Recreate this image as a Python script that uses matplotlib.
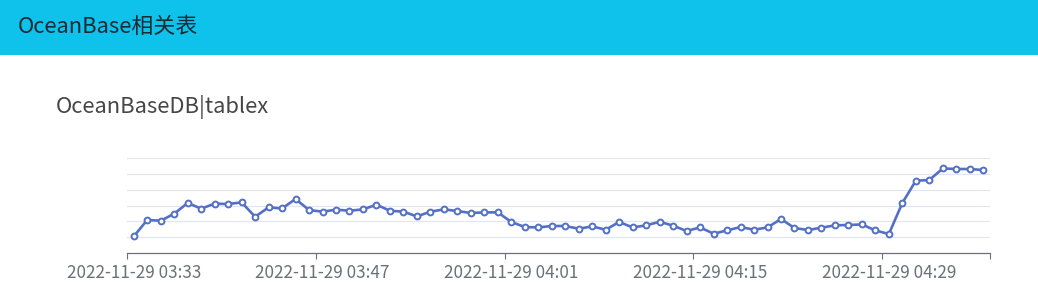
import matplotlib
matplotlib.use("Agg")
import matplotlib.pyplot as plt
import pandas as pd

plt.rcParams['font.family'] = ['Noto Sans CJK SC', 'DejaVu Sans']

header_text = "OceanBase相关表"
chart_title = "OceanBaseDB|tablex"

times = [t.strftime("%Y-%m-%d %H:%M") for t in
         pd.date_range("2022-11-29 03:33", "2022-11-29 04:36", freq="1min")]

values = [21.0, 41.7, 40.8, 49.6, 63.2, 56.0, 62.3, 61.9, 63.9, 45.8,
          57.6, 56.3, 68.2, 54.3, 52.2, 54.7, 53.4, 55.1, 61.0, 53.4,
          52.2, 46.2, 52.2, 55.1, 53.0, 50.5, 51.3, 51.3, 39.2, 32.8,
          32.3, 34.1, 34.1, 30.7, 33.6, 29.4, 39.2, 32.3, 34.9, 39.5,
          34.5, 27.8, 32.3, 24.4, 28.5, 32.8, 29.4, 32.3, 42.9, 31.6,
          29.0, 32.0, 34.9, 35.4, 36.1, 28.5, 24.0, 63.2, 91.3, 92.2,
          106.8, 106.1, 106.1, 104.8]

label_interval = 14
y_max = 120
y_step = 20

W, H = 1038, 282
fig = plt.figure(figsize=(W / 100, H / 100), dpi=100)
fig.patch.set_facecolor("white")

# header bar
fig.patches.append(plt.Rectangle((0, 1 - 55 / H), 1, 55 / H, transform=fig.transFigure,
                                 facecolor="#0ec2ec", edgecolor="none", zorder=0))
fig.text(18 / W, 1 - 27 / H, header_text, fontsize=15.8, color="#1a2a33",
         va="center", ha="left")
fig.text(56 / W, 1 - 107 / H, chart_title, fontsize=15.8, color="#464646",
         va="center", ha="left")

ax = fig.add_axes([127 / W, 29 / H, (990 - 127) / W, (253 - 158) / H])
x = list(range(len(values)))
ax.plot(x, values, color="#5470c6", lw=1.9, marker="o", ms=4.2,
        mfc="white", mec="#5470c6", mew=1.4, zorder=3, clip_on=False)

ax.set_xlim(-0.5, len(values) - 0.5)
ax.set_ylim(0, y_max)
ax.set_yticks(range(y_step, y_max + 1, y_step))
ax.yaxis.grid(True, color="#e0e6f1", lw=0.8)
ax.tick_params(axis="y", length=0, labelleft=False)

major = [i - 0.5 for i in range(0, len(values), label_interval)] + [len(values) - 0.5]
ax.set_xticks(major)
ax.set_xticklabels([""] * len(major))
ax.tick_params(axis="x", which="major", length=4, width=0.8, color="#6e7079")
minor = list(range(0, len(values), label_interval))
ax.set_xticks(minor, minor=True)
ax.set_xticklabels([times[i] for i in minor], minor=True)
ax.tick_params(axis="x", which="minor", length=0, pad=8, labelsize=12.3,
               labelcolor="#6e7079")

for s in ["top", "right", "left"]:
    ax.spines[s].set_visible(False)
ax.spines["bottom"].set_color("#6e7079")
ax.spines["bottom"].set_linewidth(0.9)
ax.set_axisbelow(True)

fig.savefig("out.png", dpi=100)
